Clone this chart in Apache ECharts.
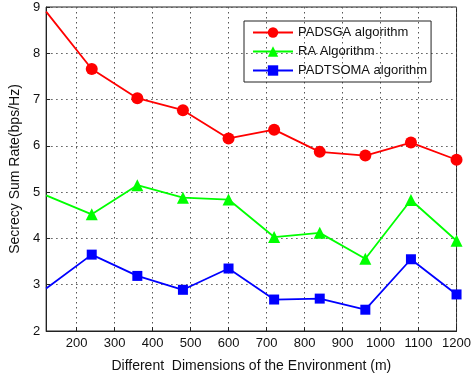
<!DOCTYPE html>
<html><head><meta charset="utf-8">
<script src="https://cdn.jsdelivr.net/npm/echarts@6/dist/echarts.min.js"></script>
<style>html,body{margin:0;padding:0;background:#fff}#c{width:474px;height:378px}</style>
</head><body><div id="c"></div>
<script>
const xValues = [120, 240, 360, 480, 600, 720, 840, 960, 1080, 1200];
const xTicks = [200, 300, 400, 500, 600, 700, 800, 900, 1000, 1100, 1200];
const padsga = [8.9, 7.66, 7.03, 6.77, 6.16, 6.35, 5.87, 5.79, 6.07, 5.70];
const ra = [4.93, 4.52, 5.15, 4.88, 4.84, 4.03, 4.12, 3.56, 4.83, 3.95];
const padtsoma = [2.92, 3.65, 3.19, 2.89, 3.35, 2.68, 2.70, 2.46, 3.55, 2.79];
const seriesNames = ['PADSGA algorithm', 'RA Algorithm', 'PADTSOMA algorithm'];
const colors = ['#ff0000', '#00ff00', '#0000ff'];
const symbols = ['circle', 'triangle', 'rect'];
const sizes = [12, 12, 10];
const font = 'Liberation Sans, Arial, sans-serif';

function mk(vals, i) {
  return {
    name: seriesNames[i], type: 'line',
    symbol: symbols[i], symbolSize: sizes[i],
    itemStyle: {color: colors[i]},
    lineStyle: {color: colors[i], width: 1.8},
    data: vals.map((v, k) => k === 0 ? {value: [xValues[k], v], symbol: 'none'} : [xValues[k], v]),
    clip: false
  };
}
const split = {show: true, lineStyle: {color: '#555', type: [1.5, 3.5], width: 1}};
const chart = echarts.init(document.getElementById('c'));
chart.setOption({
  animation: false,
  grid: {left: 39, right: 13, top: 7, bottom: 44, show: true, borderColor: '#222', borderWidth: 1},
  legend: {
    left: 244, top: 21, orient: 'vertical', itemGap: 6, itemWidth: 40, itemHeight: 13,
    borderColor: '#222', borderWidth: 1, padding: [5, 4, 5, 8], borderRadius: 0,
    textStyle: {fontFamily: font, fontSize: 13, color: '#111'},
    data: seriesNames
  },
  xAxis: [{
    type: 'value', min: 120, max: 1200,
    name: 'Different  Dimensions of the Environment (m)', nameLocation: 'middle', nameGap: 28,
    nameTextStyle: {fontFamily: font, fontSize: 14, color: '#111'},
    axisLine: {lineStyle: {color: '#222'}},
    axisTick: {inside: true, length: 4, customValues: xTicks, lineStyle: {color: '#222'}},
    axisLabel: {customValues: xTicks, formatter: v => String(v), fontFamily: font, fontSize: 13, color: '#111', margin: 6},
    splitLine: split
  }],
  yAxis: [{
    type: 'value', min: 2, max: 9, interval: 1,
    name: 'Secrecy Sum Rate(bps/Hz)', nameLocation: 'middle', nameGap: 22,
    nameTextStyle: {fontFamily: font, fontSize: 14, color: '#111'},
    axisLine: {lineStyle: {color: '#222'}},
    axisTick: {inside: true, length: 4, lineStyle: {color: '#222'}},
    axisLabel: {fontFamily: font, fontSize: 13, color: '#111', margin: 6},
    splitLine: split
  }],
  series: [mk(padsga, 0), mk(ra, 1), mk(padtsoma, 2)]
});
</script></body></html>
